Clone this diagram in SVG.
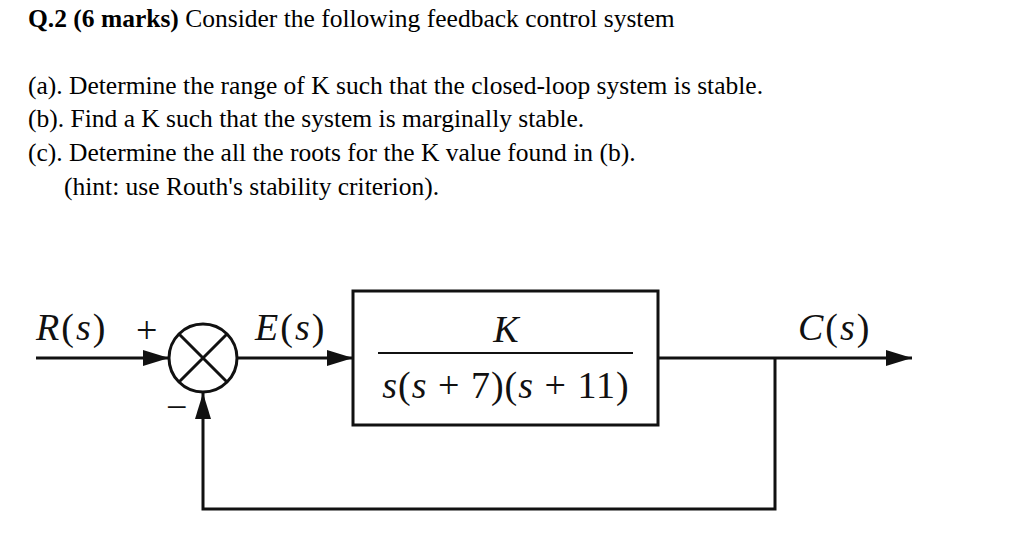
<svg xmlns="http://www.w3.org/2000/svg" width="1024" height="547" viewBox="0 0 1024 547">
<style>
.t{font-family:"Liberation Serif",serif;font-size:25.5px;fill:#000}
.m{font-family:"Liberation Serif",serif;font-size:38px;font-style:italic;fill:#111}
.u{font-family:"Liberation Serif",serif;font-size:38px;fill:#111}
.l{stroke:#111;stroke-width:3;fill:none}
</style>
<defs>
<marker id="b" markerWidth="26" markerHeight="16" refX="26" refY="8" orient="auto" markerUnits="userSpaceOnUse"><path d="M0,0L26,8L0,16z" fill="#111"/></marker></defs>
<rect width="1024" height="547" fill="#fff"/>
<g id="text">
<text class="t" x="28" y="27"><tspan font-weight="bold">Q.2 (6 marks)</tspan> Consider the following feedback control system</text>
<text class="t" x="28" y="94">(a). Determine the range of K such that the closed-loop system is stable.</text>
<text class="t" x="28" y="127">(b). Find a K such that the system is marginally stable.</text>
<text class="t" x="28" y="161">(c). Determine the all the roots for the K value found in (b).</text>
<text class="t" x="64" y="195">(hint: use Routh's stability criterion).</text>
</g>
<g id="sum">
<circle cx="203" cy="358" r="34" class="l"/>
<path d="M179,334L227,382M227,334L179,382" class="l"/>
<text class="u" x="136" y="343">+</text>
<text class="u" x="166" y="420">−</text>
</g>
<g id="plant">
<rect x="353" y="291" width="305" height="134" class="l"/>
<text class="m" x="506" y="342" text-anchor="middle">K</text>
<line x1="378" y1="353" x2="633" y2="353" stroke="#111" stroke-width="2"/>
<text class="u" x="506" y="398" text-anchor="middle" letter-spacing="1"><tspan font-style="italic">s</tspan>(<tspan font-style="italic">s</tspan> + 7)(<tspan font-style="italic">s</tspan> + 11)</text>
</g>
<g id="labels">
<text class="u" x="36" y="340" letter-spacing="2"><tspan font-style="italic">R</tspan>(<tspan font-style="italic">s</tspan>)</text>
<text class="u" x="255" y="340" letter-spacing="2"><tspan font-style="italic">E</tspan>(<tspan font-style="italic">s</tspan>)</text>
<text class="u" x="798" y="340" letter-spacing="2"><tspan font-style="italic">C</tspan>(<tspan font-style="italic">s</tspan>)</text>
</g>
<g id="connectors">
<line x1="36" y1="358" x2="169" y2="358" class="l" marker-end="url(#b)"/>
<line x1="237" y1="358" x2="353" y2="358" class="l" marker-end="url(#b)"/>
<line x1="658" y1="358" x2="912" y2="358" class="l" marker-end="url(#b)"/>
<path d="M775,358V509H203V393" class="l" marker-end="url(#b)"/>
</g>
</svg>
